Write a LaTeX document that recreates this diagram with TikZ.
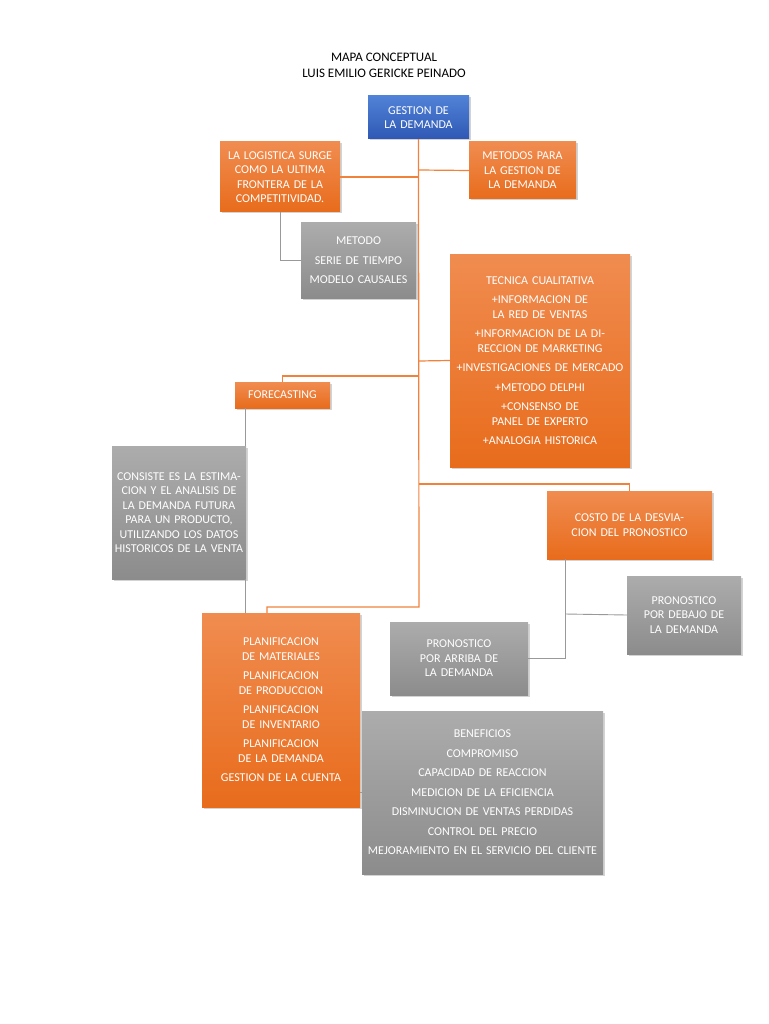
\documentclass[tikz,border=0pt]{standalone}
\usepackage{fontspec}
\setmainfont{Carlito}
\usetikzlibrary{shadows}
\begin{document}
\begin{tikzpicture}[x=1pt,y=-1pt,
 box/.style={draw=none,text=white,align=center,font=\fontsize{12}{14.5}\selectfont,inner sep=1pt,drop shadow={shadow xshift=1.5pt,shadow yshift=-1.5pt,opacity=.35}},
 org/.style={box,top color=orange!55!red!10!orange!80!white!95!orange,bottom color=orange!80!red,shading angle=0},
 og/.style={box,top color={rgb,255:red,240;green,140;blue,80},bottom color={rgb,255:red,232;green,108;blue,28}},
 gr/.style={box,top color={rgb,255:red,172;green,172;blue,172},bottom color={rgb,255:red,140;green,140;blue,140}},
 bl/.style={box,top color={rgb,255:red,80;green,130;blue,215},bottom color={rgb,255:red,47;green,88;blue,180}},
 ol/.style={draw={rgb,255:red,240;green,130;blue,60},line width=1.2pt},
 gl/.style={draw=gray!80,line width=0.9pt}]
\useasboundingbox (0,0) rectangle (768,1024);
\node[font=\fontsize{13}{16}\selectfont,align=center] (title) at (384,65) {MAPA CONCEPTUAL\\LUIS EMILIO GERICKE PEINADO};
% boxes: center, width, height
\node[bl,minimum width=101,minimum height=43,text width=97] (root) at (418.5,117.5) {GESTION DE LA DEMANDA};
\node[og,minimum width=120,minimum height=70,text width=116] (log) at (280,177) {LA LOGISTICA SURGE COMO LA ULTIMA FRONTERA DE LA COMPETITIVIDAD.};
\node[og,minimum width=107,minimum height=57,text width=103] (met) at (522.5,170.5) {METODOS PARA LA GESTION DE LA DEMANDA};
\node[gr,minimum width=115,minimum height=75,text width=113] (mt) at (358.5,260.5) {METODO\\[5pt]SERIE DE TIEMPO\\[5pt]MODELO CAUSALES};
\node[og,minimum width=180,minimum height=213,text width=176] (tec) at (540,360.5) {TECNICA CUALITATIVA\\[5pt]+INFORMACION DE LA RED DE VENTAS\\[5pt]+INFORMACION DE LA DIRECCION DE MARKETING\\[5pt]+INVESTIGACIONES DE MERCADO\\[5pt]+METODO DELPHI\\[5pt]+CONSENSO DE PANEL DE EXPERTO\\[5pt]+ANALOGIA HISTORICA};
\node[og,minimum width=95,minimum height=26,text width=93] (fore) at (282.5,395) {FORECASTING};
\node[gr,minimum width=134,minimum height=133,text width=132] (con) at (179,512.5) {CONSISTE ES LA ESTIMACION Y EL ANALISIS DE LA DEMANDA FUTURA PARA UN PRODUCTO, UTILIZANDO LOS DATOS HISTORICOS DE LA VENTA};
\node[og,minimum width=165,minimum height=68,text width=150] (cos) at (629.5,525) {COSTO DE LA DESVIACION DEL PRONOSTICO};
\node[gr,minimum width=114,minimum height=78,text width=104] (deb) at (684,615) {PRONOSTICO POR DEBAJO DE LA DEMANDA};
\node[gr,minimum width=138,minimum height=73,text width=110] (arr) at (459,658.5) {PRONOSTICO POR ARRIBA DE LA DEMANDA};
\node[og,minimum width=158,minimum height=194,text width=156] (pla) at (281,710) {PLANIFICACION DE MATERIALES\\[5pt]PLANIFICACION DE PRODUCCION\\[5pt]PLANIFICACION DE INVENTARIO\\[5pt]PLANIFICACION DE LA DEMANDA\\[5pt]GESTION DE LA CUENTA};
\node[gr,minimum width=241,minimum height=163,text width=237] (ben) at (482.5,792.5) {BENEFICIOS\\[5pt]COMPROMISO\\[5pt]CAPACIDAD DE REACCION\\[5pt]MEDICION DE LA EFICIENCIA\\[5pt]DISMINUCION DE VENTAS PERDIDAS\\[5pt]CONTROL DEL PRECIO\\[5pt]MEJORAMIENTO EN EL SERVICIO DEL CLIENTE};
% trunk
\coordinate (t1) at (419,607);
\begin{scope}[on background layer/.style={}]
\draw[ol] (root.south) -- (t1) -| (pla.north -| 267,0);
\draw[ol] (log.east) -- (419,177);
\draw[ol] (419,170) -- (met.west);
\draw[ol] (419,361) -- (tec.west);
\draw[ol] (419,376) -| (fore.north);
\draw[ol] (419,484) -| (cos.north);
\draw[gl] (log.south) |- (mt.west);
\draw[gl] (fore.south -| 245,0) -- (con.north -| 245,0);
\draw[gl] (con.south -| 245,0) -- (pla.north -| 245,0);
\draw[gl] (cos.south -| 565,0) |- (arr.east);
\draw[gl] (565,614) -- (deb.west);
\draw[gl] (pla.east |- 0,792) -- (ben.west |- 0,792);
\end{scope}
\end{tikzpicture}
\end{document}
